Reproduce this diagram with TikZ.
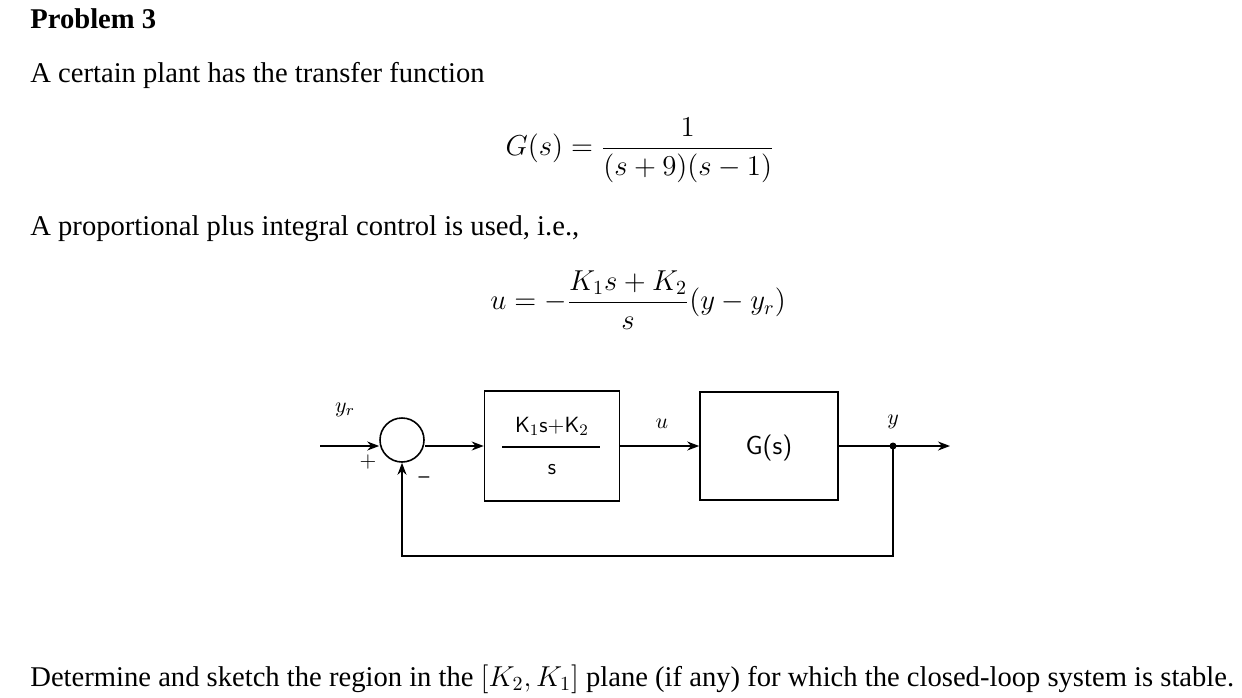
\documentclass[tikz,border=0pt]{standalone}
\usepackage{amsmath}
\usepackage{fontspec}
\setmainfont{Liberation Serif}
\usetikzlibrary{arrows.meta}
\begin{document}
\begin{tikzpicture}[x=0.5pt,y=-0.5pt,
  txt/.style={anchor=base west,inner sep=0pt,font=\fontsize{14.3}{17}\selectfont},
  blk/.style={draw,line width=0.8pt,inner sep=0pt},
  hand/.style={font=\sffamily\fontsize{11}{13}\selectfont},
  wire/.style={line width=0.8pt},
  arr/.style={wire,-{Stealth[length=6pt]}}]
\useasboundingbox (0,0) rectangle (1242,697);
\node[txt,font=\bfseries\fontsize{14.3}{17}\selectfont] (title) at (30,28) {Problem 3};
\node[txt] (l1) at (30,82) {A certain plant has the transfer function};
\node[inner sep=0pt,font=\fontsize{14.3}{17}\selectfont] (eq1) at (640,150) {$G(s)=\dfrac{1}{(s+9)(s-1)}$};
\node[txt] (l2) at (30,235) {A proportional plus integral control is used, i.e.,};
\node[inner sep=0pt,font=\fontsize{14.3}{17}\selectfont] (eq2) at (638,300) {$u=-\dfrac{K_1s+K_2}{s}(y-y_r)$};
\node[txt] (l3) at (30,686) {Determine and sketch the region in the $[K_2,K_1]$ plane (if any) for which the closed-loop system is stable.};
% diagram
\node[draw,circle,minimum size=22pt,line width=0.8pt,inner sep=0pt] (sum) at (402,440) {};
\coordinate (yin) at (320,446);
\node[blk,minimum width=67.5pt,minimum height=55pt] (c) at (552,446) {};
\node[hand] (cn) at (552,426) {K$_1$s+K$_2$};
\draw[wire] (502,447) -- (600,447);
\node[hand] (cd) at (552,470) {s};
\node[blk,minimum width=69pt,minimum height=54pt] (g) at (769,446) {};
\node[hand,font=\sffamily\fontsize{13}{15}\selectfont] (gl) at (769,448) {G(s)};
\coordinate (tap) at (893,446);
\coordinate (yout) at (950,446);
\coordinate (b1) at (893,556);
\coordinate (b2) at (402,556);
\draw[arr] (yin) -- (sum.west |- yin);
\draw[arr] (sum.east |- c.west) -- (c.west);
\draw[arr] (c.east) -- (g.west);
\draw[wire] (g.east) -- (tap);
\draw[arr] (tap) -- (yout);
\fill (tap) circle (3.5);
\draw[arr] (tap) -- (b1) -- (b2) -- (sum.south);
\node[hand] (yr) at (345,410) {$y_r$};
\node[hand] (pl) at (368,462) {+};
\node[hand] (mi) at (424,480) {--};
\node[hand] (ul) at (662,424) {$u$};
\node[hand] (yl) at (893,422) {$y$};
\end{tikzpicture}
\end{document}
